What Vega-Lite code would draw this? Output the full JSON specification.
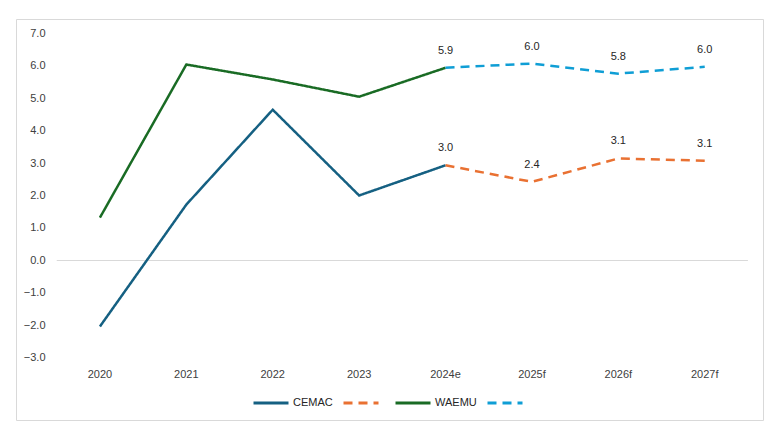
{
  "$schema": "https://vega.github.io/schema/vega-lite/v6.json",
  "width": 747,
  "height": 401,
  "padding": {"left": 16, "top": 19, "right": 17, "bottom": 19},
  "background": "white",
  "config": {
    "view": {"stroke": "#d9d9d9", "strokeWidth": 1},
    "font": "Liberation Sans"
  },
  "data": {
    "values": [
      {"year": "2020", "series": "CEMAC", "value": -2.03},
      {"year": "2021", "series": "CEMAC", "value": 1.72},
      {"year": "2022", "series": "CEMAC", "value": 4.64},
      {"year": "2023", "series": "CEMAC", "value": 2.0},
      {"year": "2024e", "series": "CEMAC", "value": 2.93},
      {"year": "2024e", "series": "CEMAC_f", "value": 2.93, "label": "3.0"},
      {"year": "2025f", "series": "CEMAC_f", "value": 2.42, "label": "2.4"},
      {"year": "2026f", "series": "CEMAC_f", "value": 3.14, "label": "3.1"},
      {"year": "2027f", "series": "CEMAC_f", "value": 3.07, "label": "3.1"},
      {"year": "2020", "series": "WAEMU", "value": 1.32},
      {"year": "2021", "series": "WAEMU", "value": 6.03},
      {"year": "2022", "series": "WAEMU", "value": 5.57},
      {"year": "2023", "series": "WAEMU", "value": 5.04},
      {"year": "2024e", "series": "WAEMU", "value": 5.93},
      {"year": "2024e", "series": "WAEMU_f", "value": 5.93, "label": "5.9"},
      {"year": "2025f", "series": "WAEMU_f", "value": 6.06, "label": "6.0"},
      {"year": "2026f", "series": "WAEMU_f", "value": 5.75, "label": "5.8"},
      {"year": "2027f", "series": "WAEMU_f", "value": 5.96, "label": "6.0"}
    ]
  },
  "encoding": {
    "x": {
      "field": "year",
      "type": "ordinal",
      "bandPosition": 0.5,
      "scale": {
        "type": "band",
        "domain": ["2020", "2021", "2022", "2023", "2024e", "2025f", "2026f", "2027f"],
        "paddingInner": 0,
        "paddingOuter": 0.323,
        "align": 0.73
      },
      "axis": {
        "title": null,
        "domain": false,
        "ticks": false,
        "tickSize": 0,
        "grid": false,
        "labelAngle": 0,
        "labelPadding": 2,
        "offset": -54,
        "labelFontSize": 11,
        "labelColor": "#404040"
      }
    },
    "y": {
      "field": "value",
      "type": "quantitative",
      "scale": {"domain": [-4.908, 7.431], "nice": false, "zero": false},
      "axis": {
        "title": null,
        "domain": false,
        "ticks": false,
        "tickSize": 0,
        "grid": false,
        "values": [-3, -2, -1, 0, 1, 2, 3, 4, 5, 6, 7],
        "format": ".1f",
        "labelPadding": 2,
        "offset": -31,
        "labelFontSize": 11,
        "labelColor": "#404040"
      }
    }
  },
  "layer": [
    {
      "data": {"values": [{"z": 0}]},
      "mark": {"type": "rule", "color": "#d9d9d9", "strokeWidth": 1},
      "encoding": {
        "x": {"datum": "2020", "type": "ordinal", "bandPosition": 0},
        "x2": {"datum": "2027f", "bandPosition": 1},
        "y": {"field": "z", "type": "quantitative"}
      }
    },
    {
      "mark": {"type": "line", "strokeWidth": 2.5, "strokeCap": "butt"},
      "encoding": {
        "color": {
          "field": "series",
          "type": "nominal",
          "scale": {
            "domain": ["CEMAC", "CEMAC_f", "WAEMU", "WAEMU_f"],
            "range": ["#156082", "#E97132", "#196B24", "#0F9ED5"]
          },
          "legend": {
            "orient": "none",
            "legendX": 236,
            "legendY": 365,
            "direction": "horizontal",
            "title": null,
            "symbolType": "stroke",
            "symbolSize": 1225,
            "symbolStrokeWidth": 3,
            "labelOffset": 3,
            "columnPadding": 4,
            "labelFontSize": 11,
            "labelColor": "#262626",
            "labelExpr": "indexof(datum.label, '_f') >= 0 ? '' : datum.label"
          }
        },
        "strokeDash": {
          "field": "series",
          "type": "nominal",
          "scale": {
            "domain": ["CEMAC", "CEMAC_f", "WAEMU", "WAEMU_f"],
            "range": [[1, 0], [9, 6], [1, 0], [9, 6]]
          },
          "legend": {
            "orient": "none",
            "legendX": 236,
            "legendY": 365,
            "direction": "horizontal",
            "title": null,
            "symbolType": "stroke",
            "symbolSize": 1225,
            "symbolStrokeWidth": 3,
            "labelOffset": 3,
            "columnPadding": 4,
            "labelFontSize": 11,
            "labelColor": "#262626",
            "labelExpr": "indexof(datum.label, '_f') >= 0 ? '' : datum.label"
          }
        }
      }
    },
    {
      "transform": [{"filter": "isValid(datum.label)"}],
      "mark": {"type": "text", "dy": -17, "fontSize": 11, "color": "#262626", "baseline": "middle"},
      "encoding": {
        "text": {"field": "label", "type": "nominal"}
      }
    }
  ]
}
